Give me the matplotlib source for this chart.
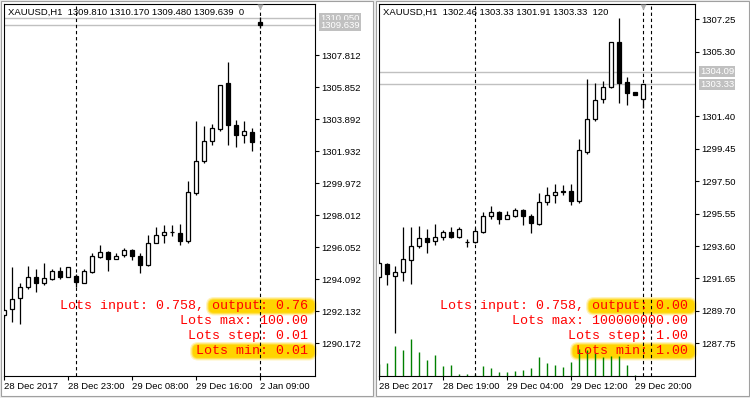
import matplotlib
matplotlib.use("Agg")
import matplotlib.pyplot as plt
import matplotlib.transforms as mtransforms
from matplotlib.patches import Rectangle, FancyBboxPatch

plt.rcParams['font.family'] = 'Liberation Sans'

W, H = 750, 398

# left terminal (lot step 0.01), XAUUSD H1, bar index 0 = 28 Dec 15:00
left_open = [1291.87, 1292.23, 1292.91, 1293.62, 1294.20, 1293.87, 1294.11, 1294.56, 1294.23, 1294.28,
             1293.87, 1294.52, 1295.46, 1295.75, 1295.30, 1295.54, 1295.87, 1295.50, 1294.95, 1296.28,
             1296.77, 1296.97, 1296.93, 1296.44, 1299.38, 1301.30, 1302.53, 1303.30, 1306.12, 1303.51,
             1302.93, 1303.10, 1309.810]
left_high = [1292.26, 1294.81, 1293.87, 1294.89, 1294.69, 1295.05, 1294.69, 1294.81, 1294.85, 1294.40,
             1294.69, 1295.67, 1296.16, 1295.79, 1295.71, 1295.99, 1295.95, 1295.67, 1296.79, 1297.26,
             1297.38, 1297.38, 1297.46, 1300.08, 1303.79, 1303.46, 1303.59, 1305.97, 1307.38, 1303.83,
             1303.79, 1303.34, 1310.170]
left_low = [1291.70, 1291.48, 1291.34, 1293.50, 1293.31, 1293.73, 1294.03, 1294.11, 1294.20, 1293.62,
            1293.83, 1294.49, 1295.38, 1294.56, 1295.30, 1295.46, 1295.26, 1294.48, 1294.89, 1296.27,
            1296.32, 1296.73, 1296.19, 1296.28, 1299.22, 1301.22, 1302.28, 1303.18, 1302.28, 1302.20,
            1302.44, 1301.95, 1309.480]
left_close = [1292.19, 1292.85, 1293.62, 1294.20, 1293.83, 1294.14, 1294.56, 1294.23, 1294.81, 1293.91,
              1294.56, 1295.50, 1295.75, 1295.30, 1295.50, 1295.87, 1295.50, 1294.95, 1296.28, 1296.79,
              1296.97, 1296.97, 1296.44, 1299.42, 1301.30, 1302.53, 1303.34, 1305.96, 1303.54, 1302.93,
              1303.14, 1302.48, 1309.639]
left_ticks = [1290.172, 1292.132, 1294.092, 1296.052, 1298.012, 1299.972, 1301.932, 1303.892, 1305.852, 1307.812]
left_date_bars = [0, 8, 16, 24, 32]
left_dates = ["28 Dec 2017", "28 Dec 23:00", "29 Dec 08:00", "29 Dec 16:00", "2 Jan 09:00"]
left_separators = [9, 32]
left_ask, left_bid = 1310.050, 1309.639
left_header = "XAUUSD,H1  1309.810 1310.170 1309.480 1309.639  0"
left_lines = ["Lots input: 0.758, output: 0.76", "Lots max: 100.00", "Lots step: 0.01", "Lots min: 0.01"]
left_marked = ["output: 0.76", None, None, "Lots min: 0.01"]

# right terminal (lot step 1.00), bar index 0 = 28 Dec 11:00
right_open = [1291.72, 1292.50, 1291.81, 1292.06, 1292.79, 1293.62, 1294.07, 1293.93, 1294.13, 1294.46,
              1294.17, 1293.83, 1293.83, 1294.43, 1295.41, 1295.67, 1295.21, 1295.41, 1295.77, 1295.41,
              1294.93, 1296.23, 1296.65, 1296.93, 1296.91, 1296.33, 1299.28, 1301.23, 1302.43, 1303.19,
              1305.87, 1303.48, 1302.87, 1302.46]
right_high = [1292.64, 1292.56, 1292.38, 1294.75, 1294.76, 1294.78, 1294.60, 1294.90, 1294.57, 1294.73,
              1294.76, 1294.02, 1294.67, 1295.67, 1296.01, 1295.73, 1295.71, 1295.87, 1295.81, 1295.53,
              1296.81, 1297.15, 1297.33, 1297.27, 1297.36, 1300.03, 1303.64, 1303.40, 1303.55, 1305.87,
              1307.31, 1303.75, 1302.87, 1303.33]
right_low = [1291.67, 1291.27, 1288.37, 1291.50, 1291.30, 1293.46, 1293.21, 1293.68, 1293.96, 1294.07,
             1294.07, 1293.55, 1293.78, 1294.37, 1295.21, 1294.93, 1295.20, 1295.33, 1294.89, 1294.40,
             1294.89, 1296.07, 1296.21, 1296.67, 1296.07, 1296.17, 1299.14, 1301.15, 1302.19, 1303.10,
             1302.19, 1302.09, 1302.67, 1301.91]
right_close = [1292.56, 1291.90, 1292.06, 1292.82, 1293.62, 1294.07, 1293.86, 1294.13, 1294.46, 1294.17,
               1294.60, 1293.83, 1294.49, 1295.39, 1295.67, 1295.21, 1295.47, 1295.77, 1295.41, 1294.97,
               1296.23, 1296.65, 1296.85, 1296.84, 1296.33, 1299.38, 1301.23, 1302.39, 1303.19, 1305.87,
               1303.43, 1302.83, 1302.67, 1303.33]
right_volume = [3000, 3330, 7500, 6500, 9250, 6080, 4000, 5250, 2500, 2750,
                500, 500, 500, 2500, 2000, 1000, 1000, 1250, 1500, 2080,
                4750, 3250, 2750, 2250, 3500, 6750, 6500, 5750, 4750, 5000,
                5000, 2750, 150, 120]
right_ticks = [1287.75, 1289.70, 1291.65, 1293.60, 1295.55, 1297.50, 1299.45, 1301.40, 1305.30, 1307.25]
right_date_bars = [0, 8, 16, 24, 32]
right_dates = ["28 Dec 2017", "28 Dec 19:00", "29 Dec 04:00", "29 Dec 12:00", "29 Dec 20:00"]
right_separators = [12, 33, 34]
right_ask, right_bid = 1304.09, 1303.33
right_header = "XAUUSD,H1  1302.46 1303.33 1301.91 1303.33  120"
right_lines = ["Lots input: 0.758, output: 0.00", "Lots max: 100000000.00", "Lots step: 1.00", "Lots min: 1.00"]
right_marked = ["output: 0.00", None, None, "Lots min: 1.00"]

fig = plt.figure(figsize=(7.5, 3.98), dpi=100, facecolor='#ececec')
for x0, x1 in ((1, 373), (376, 749)):
    fig.add_artist(Rectangle((x0 / W, 1 - 396 / H), (x1 - x0) / W, 395 / H, transform=fig.transFigure,
                             fc='white', ec='#a0a0a0', lw=0.8, zorder=-1))

marks = []


def panel(left_px, width_px, o, h, l, c, vol, ylim, ticks, fmt, date_bars, dates, seps, ask, bid,
          header, lines, marked, text_right):
    ax = fig.add_axes([left_px / W, 1 - 376 / H, width_px / W, 372 / H])
    ax.set_xlim(0, width_px / 8)
    ax.set_ylim(*ylim)
    bars = list(range(len(o)))

    for k in seps:
        ax.axvline(k, color='black', lw=0.8, ls=(0, (3, 2.5)), zorder=2)
    for p in (ask, bid):
        ax.axhline(p, color='#c0c0c0', lw=1, zorder=1.5)

    if vol:
        vol_top = 93000
        ax.vlines(bars, 0, [v / vol_top for v in vol], transform=ax.get_xaxis_transform(),
                  color='#008000', lw=1, zorder=1.8)

    ax.vlines(bars, l, h, color='black', lw=0.9, zorder=3)
    colors = ['white' if cc >= oo else 'black' for oo, cc in zip(o, c)]
    ax.bar(bars, [cc - oo for oo, cc in zip(o, c)], bottom=o, width=0.55, color=colors,
           edgecolor='black', linewidth=0.9, zorder=4)

    # chart shift marker
    ax.plot([bars[-1]], [1 - 2.5 / 372], marker='v', ms=5, color='#b0b0b0', mec='none',
            transform=ax.get_xaxis_transform(), clip_on=False, zorder=6)

    for s in ax.spines.values():
        s.set_linewidth(0.8)
    ax.yaxis.tick_right()
    ax.set_yticks(ticks, [fmt % t for t in ticks])
    ax.set_xticks(date_bars, dates)
    ax.tick_params(axis='both', direction='out', length=3, width=0.8, pad=1.5, labelsize=6.8)
    for lbl in ax.get_xticklabels():
        lbl.set_horizontalalignment('left')

    tr = mtransforms.offset_copy(ax.get_yaxis_transform(), x=5, y=0, units='dots')
    for p in (ask, bid):
        ax.text(1.0, p, fmt % p, transform=tr, ha='left', va='center', color='white', fontsize=6.8,
                bbox=dict(boxstyle='square,pad=0.12', fc='#c0c0c0', ec='none'), clip_on=False, zorder=7)

    fig.text((left_px + 4) / W, 1 - 12 / H, header, ha='left', va='center', fontsize=6.8, color='black')

    for i, (line, mark) in enumerate(zip(lines, marked)):
        base = 309.5 + 15 * i
        if mark:
            # invisible copy of the highlighted part, only used to measure its extent
            t = ax.text(text_right / W, 1 - base / H, mark, transform=fig.transFigure, ha='right',
                        va='baseline', family='Liberation Mono', fontsize=9.6, color=(0, 0, 0, 0),
                        clip_on=False, zorder=0)
            marks.append((ax, t, base))
        ax.text(text_right / W, 1 - base / H, line, transform=fig.transFigure, ha='right', va='baseline',
                family='Liberation Mono', fontsize=9.6, color='#ff0000', clip_on=False, zorder=8)
    return ax


panel(4, 311, left_open, left_high, left_low, left_close, None, (1288.151, 1310.936), left_ticks, '%.3f',
      left_date_bars, left_dates, left_separators, left_ask, left_bid, left_header, left_lines, left_marked, 308)
panel(379, 316, right_open, right_high, right_low, right_close, right_volume, (1285.777, 1308.171), right_ticks,
      '%.2f', right_date_bars, right_dates, right_separators, right_ask, right_bid, right_header, right_lines,
      right_marked, 688)

# soft yellow glow behind the highlighted parts
fig.canvas.draw()
for ax, t, base in marks:
    bb = t.get_window_extent()
    yb = H - base
    x0, x1 = bb.x0 - 3, bb.x1 + 6
    y0, y1 = yb - 3, yb + 9.5
    for grow, alpha in ((3.0, 0.25), (1.8, 0.45), (0.8, 0.7), (0.0, 1.0)):
        ax.add_patch(FancyBboxPatch((x0 - grow, y0 - grow), x1 - x0 + 2 * grow, y1 - y0 + 2 * grow,
                                    boxstyle='round,pad=0,rounding_size=%s' % (5 + grow),
                                    transform=mtransforms.IdentityTransform(), fc='#ffd400', ec='none',
                                    alpha=alpha, clip_on=False, zorder=1))

fig.savefig('out.png', dpi=100, facecolor=fig.get_facecolor())
